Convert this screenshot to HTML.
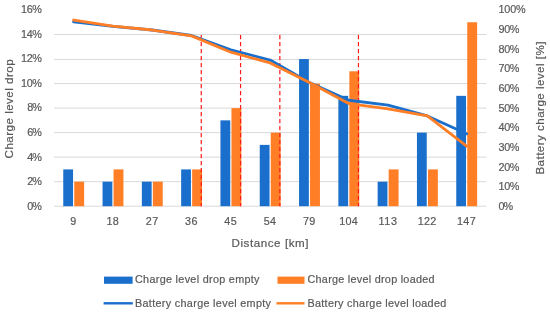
<!DOCTYPE html><html><head><meta charset="utf-8"><title>Chart</title>
<style>html,body{margin:0;padding:0;background:#fff}svg{display:block}text{font-family:"Liberation Sans",sans-serif;fill:#595959;font-size:10.8px;stroke:#595959;stroke-width:0.2px}.t{font-size:11.6px}</style></head><body>
<svg width="550" height="315" viewBox="0 0 550 315">
<rect width="550" height="315" fill="#fff"/>
<line x1="54.0" y1="206.20" x2="486.3" y2="206.20" stroke="#d9d9d9" stroke-width="1"/>
<line x1="54.0" y1="181.67" x2="486.3" y2="181.67" stroke="#d9d9d9" stroke-width="1"/>
<line x1="54.0" y1="157.15" x2="486.3" y2="157.15" stroke="#d9d9d9" stroke-width="1"/>
<line x1="54.0" y1="132.62" x2="486.3" y2="132.62" stroke="#d9d9d9" stroke-width="1"/>
<line x1="54.0" y1="108.10" x2="486.3" y2="108.10" stroke="#d9d9d9" stroke-width="1"/>
<line x1="54.0" y1="83.57" x2="486.3" y2="83.57" stroke="#d9d9d9" stroke-width="1"/>
<line x1="54.0" y1="59.45" x2="486.3" y2="59.45" stroke="#d9d9d9" stroke-width="1"/>
<line x1="54.0" y1="34.53" x2="486.3" y2="34.53" stroke="#d9d9d9" stroke-width="1"/>
<rect x="63.25" y="169.41" width="9.80" height="36.79" fill="#196fcb"/>
<rect x="74.25" y="181.67" width="9.90" height="24.53" fill="#ff7e26"/>
<rect x="102.55" y="181.67" width="9.80" height="24.53" fill="#196fcb"/>
<rect x="113.55" y="169.41" width="9.90" height="36.79" fill="#ff7e26"/>
<rect x="141.85" y="181.67" width="9.80" height="24.53" fill="#196fcb"/>
<rect x="152.85" y="181.67" width="9.90" height="24.53" fill="#ff7e26"/>
<rect x="181.15" y="169.41" width="9.80" height="36.79" fill="#196fcb"/>
<rect x="192.15" y="169.41" width="9.90" height="36.79" fill="#ff7e26"/>
<rect x="220.45" y="120.36" width="9.80" height="85.84" fill="#196fcb"/>
<rect x="231.45" y="108.10" width="9.90" height="98.10" fill="#ff7e26"/>
<rect x="259.75" y="144.89" width="9.80" height="61.31" fill="#196fcb"/>
<rect x="270.75" y="132.62" width="9.90" height="73.57" fill="#ff7e26"/>
<rect x="299.05" y="59.05" width="9.80" height="147.15" fill="#196fcb"/>
<rect x="310.05" y="83.57" width="9.90" height="122.62" fill="#ff7e26"/>
<rect x="338.35" y="95.84" width="9.80" height="110.36" fill="#196fcb"/>
<rect x="349.35" y="71.31" width="9.90" height="134.89" fill="#ff7e26"/>
<rect x="377.65" y="181.67" width="9.80" height="24.53" fill="#196fcb"/>
<rect x="388.65" y="169.41" width="9.90" height="36.79" fill="#ff7e26"/>
<rect x="416.95" y="132.62" width="9.80" height="73.57" fill="#196fcb"/>
<rect x="427.95" y="169.41" width="9.90" height="36.79" fill="#ff7e26"/>
<rect x="456.25" y="95.84" width="9.80" height="110.36" fill="#196fcb"/>
<rect x="467.25" y="22.26" width="9.90" height="183.94" fill="#ff7e26"/>
<line x1="201.25" y1="34.93" x2="201.25" y2="206.20" stroke="#ff1a1a" stroke-width="1.2" stroke-dasharray="4.3,2.7"/>
<line x1="240.55" y1="34.93" x2="240.55" y2="206.20" stroke="#ff1a1a" stroke-width="1.2" stroke-dasharray="4.3,2.7"/>
<line x1="279.85" y1="34.93" x2="279.85" y2="206.20" stroke="#ff1a1a" stroke-width="1.2" stroke-dasharray="4.3,2.7"/>
<line x1="358.45" y1="34.93" x2="358.45" y2="206.20" stroke="#ff1a1a" stroke-width="1.2" stroke-dasharray="4.3,2.7"/>
<polyline points="73.65,21.77 112.95,26.28 152.25,30.01 191.55,35.51 230.85,49.83 270.15,60.03 309.45,82.40 348.75,100.25 388.05,105.16 427.35,115.95 466.65,133.80" fill="none" stroke="#196fcb" stroke-width="2.8" stroke-linejoin="round" stroke-linecap="round"/>
<polyline points="73.65,20.01 112.95,26.09 152.25,30.01 191.55,35.90 230.85,52.18 270.15,62.97 309.45,82.59 348.75,103.59 388.05,108.88 427.35,115.95 466.65,146.16" fill="none" stroke="#ff7e26" stroke-width="2.8" stroke-linejoin="round" stroke-linecap="round"/>
<text x="41.8" y="209.70" text-anchor="end" textLength="14.5">0%</text>
<text x="41.8" y="185.14" text-anchor="end" textLength="14.5">2%</text>
<text x="41.8" y="160.57" text-anchor="end" textLength="14.5">4%</text>
<text x="41.8" y="136.01" text-anchor="end" textLength="14.5">6%</text>
<text x="41.8" y="111.45" text-anchor="end" textLength="14.5">8%</text>
<text x="41.8" y="86.89" text-anchor="end" textLength="20.7">10%</text>
<text x="41.8" y="62.33" text-anchor="end" textLength="20.7">12%</text>
<text x="41.8" y="37.76" text-anchor="end" textLength="20.7">14%</text>
<text x="41.8" y="13.20" text-anchor="end" textLength="20.7">16%</text>
<text x="498.6" y="209.80" textLength="14.5">0%</text>
<text x="498.6" y="190.15" textLength="20.7">10%</text>
<text x="498.6" y="170.50" textLength="20.7">20%</text>
<text x="498.6" y="150.85" textLength="20.7">30%</text>
<text x="498.6" y="131.20" textLength="20.7">40%</text>
<text x="498.6" y="111.55" textLength="20.7">50%</text>
<text x="498.6" y="91.90" textLength="20.7">60%</text>
<text x="498.6" y="72.25" textLength="20.7">70%</text>
<text x="498.6" y="52.60" textLength="20.7">80%</text>
<text x="498.6" y="32.95" textLength="20.7">90%</text>
<text x="498.6" y="13.30" textLength="26.9">100%</text>
<text x="73.35" y="225.4" text-anchor="middle" textLength="6.2">9</text>
<text x="112.65" y="225.4" text-anchor="middle" textLength="12.4">18</text>
<text x="151.95" y="225.4" text-anchor="middle" textLength="12.4">27</text>
<text x="191.25" y="225.4" text-anchor="middle" textLength="12.4">36</text>
<text x="230.55" y="225.4" text-anchor="middle" textLength="12.4">45</text>
<text x="269.85" y="225.4" text-anchor="middle" textLength="12.4">54</text>
<text x="309.15" y="225.4" text-anchor="middle" textLength="12.4">79</text>
<text x="348.45" y="225.4" text-anchor="middle" textLength="18.6">104</text>
<text x="387.75" y="225.4" text-anchor="middle" textLength="18.6">113</text>
<text x="427.05" y="225.4" text-anchor="middle" textLength="18.6">122</text>
<text x="466.35" y="225.4" text-anchor="middle" textLength="18.6">147</text>
<text class="t" x="270" y="247.2" text-anchor="middle" textLength="77">Distance [km]</text>
<text class="t" transform="translate(12.9,108.9) rotate(-90)" text-anchor="middle" textLength="99">Charge level drop</text>
<text class="t" transform="translate(544,108.1) rotate(-90)" text-anchor="middle" textLength="133">Battery charge level [%]</text>
<rect x="104" y="276.6" width="28.6" height="7.2" fill="#196fcb"/>
<text x="135" y="283" textLength="124.5">Charge level drop empty</text>
<rect x="277.5" y="276.6" width="27" height="7.2" fill="#ff7e26"/>
<text x="307.5" y="283" textLength="127">Charge level drop loaded</text>
<line x1="103.6" y1="303.3" x2="132.8" y2="303.3" stroke="#196fcb" stroke-width="2.4"/>
<text x="135" y="306.8" textLength="136">Battery charge level empty</text>
<line x1="276.5" y1="303.3" x2="304.5" y2="303.3" stroke="#ff7e26" stroke-width="2.4"/>
<text x="307.5" y="306.8" textLength="138.7">Battery charge level loaded</text>
</svg></body></html>
